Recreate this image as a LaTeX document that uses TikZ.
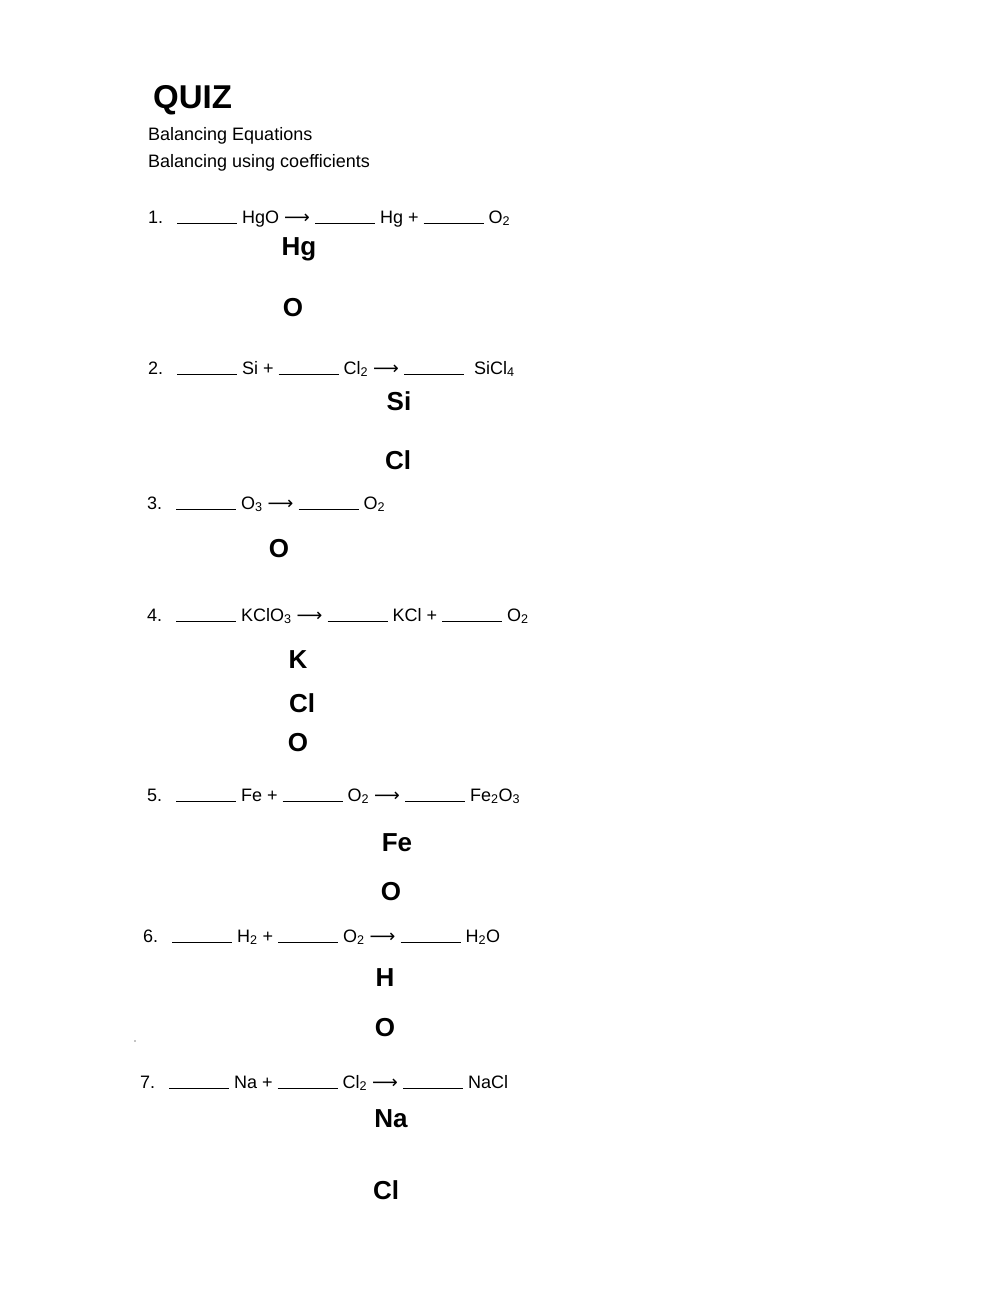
\documentclass[tikz,border=0pt]{standalone}
\usepackage{fontspec}
\setmainfont{Liberation Sans}
\newfontfamily\dv{DejaVu Sans}
\begin{document}
\begin{tikzpicture}[x=1pt,y=-1pt,
 eq/.style={anchor=base west,inner sep=0pt,font=\fontsize{18}{21}\selectfont},
 lbl/.style={inner sep=0pt,font=\bfseries\fontsize{26}{30}\selectfont}]
\newcommand{\ar}{{\dv ⟶}}
\newcommand{\bl}{\rule[-1pt]{60pt}{0.8pt}}
\newcommand{\s}[1]{\textsubscript{#1}}
\useasboundingbox (0,0) rectangle (1000,1294);
\node[anchor=west,inner sep=0pt,font=\bfseries\fontsize{33}{36}\selectfont] (quiz) at (153,100) {QUIZ};
\node[eq] (t1) at (148,140) {Balancing Equations};
\node[eq] (t2) at (148,167) {Balancing using coefficients};
\node[eq] (e1) at (148,223) {1.\enspace\ \bl\ HgO \ar\ \bl\ Hg + \bl\ O\s{2}};
\node[eq] (e2) at (148,374) {2.\enspace\ \bl\ Si + \bl\ Cl\s{2} \ar\ \bl\ \ SiCl\s{4}};
\node[eq] (e3) at (147,509) {3.\enspace\ \bl\ O\s{3} \ar\ \bl\ O\s{2}};
\node[eq] (e4) at (147,621) {4.\enspace\ \bl\ KClO\s{3} \ar\ \bl\ KCl + \bl\ O\s{2}};
\node[eq] (e5) at (147,801) {5.\enspace\ \bl\ Fe + \bl\ O\s{2} \ar\ \bl\ Fe\s{2}O\s{3}};
\node[eq] (e6) at (143,942) {6.\enspace\ \bl\ H\s{2} + \bl\ O\s{2} \ar\ \bl\ H\s{2}O};
\node[eq] (e7) at (140,1088) {7.\enspace\ \bl\ Na + \bl\ Cl\s{2} \ar\ \bl\ NaCl};
\node[lbl] (l1) at (299,249) {Hg};
\node[lbl] (l2) at (293,308) {O};
\node[lbl] (l3) at (399,401) {Si};
\node[lbl] (l4) at (398,460) {Cl};
\node[lbl] (l5) at (279,549) {O};
\node[lbl] (l6) at (298,660) {K};
\node[lbl] (l7) at (302,703) {Cl};
\node[lbl] (l8) at (298,743) {O};
\node[lbl] (l9) at (397,843) {Fe};
\node[lbl] (l10) at (391,892) {O};
\node[lbl] (l11) at (385,978) {H};
\node[lbl] (l12) at (385,1028) {O};
\node[lbl] (l13) at (391,1119) {Na};
\node[lbl] (l14) at (386,1190) {Cl};
\fill (135,1041) circle (0.6);
\end{tikzpicture}
\end{document}
